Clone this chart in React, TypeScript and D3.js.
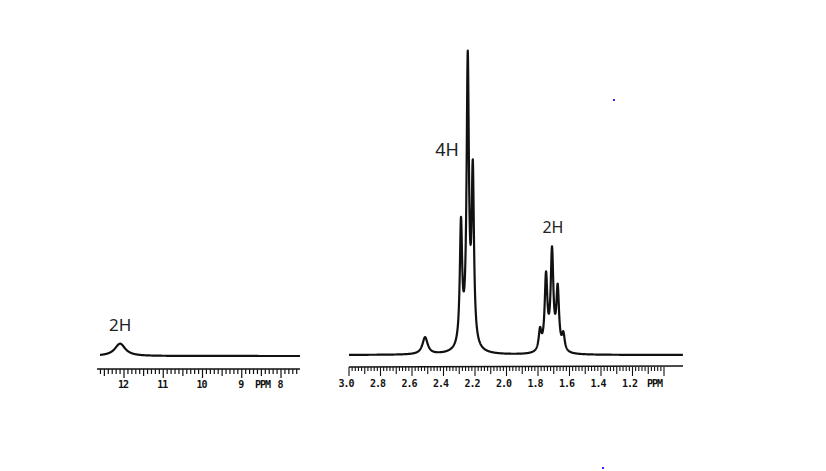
import * as d3 from "d3"

// right panel peaks (ppm, relative height, half width in ppm)
const rightPpm = [2.517, 2.289, 2.246, 2.214, 2.25, 1.787, 1.749, 1.711, 1.675, 1.639]
const rightHeight = [5.5, 39, 91, 55, 2, 6.6, 24, 31.8, 19.8, 5.3]
const rightWidth = [0.02, 0.0088, 0.0088, 0.0088, 0.05, 0.0102, 0.0102, 0.0102, 0.0102, 0.0102]

// left panel peak
const leftPpm = [12.1]
const leftHeight = [4]
const leftWidth = [0.16]

const rightTickLabels = ["3.0", "2.8", "2.6", "2.4", "2.2", "2.0", "1.8", "1.6", "1.4", "1.2"]
const leftTickLabels = ["12", "11", "10", "9", "8"]

const peakLabels = [
  { text: "2H", panel: "left", ppm: 12.1, h: 8, size: 17 },
  { text: "4H", panel: "right", ppm: 2.378, h: 64.5, size: 18 },
  { text: "2H", panel: "right", ppm: 1.705, h: 39.5, size: 16 },
]

function spectrum(ppm: number[], hs: number[], ws: number[], from: number, to: number, step: number) {
  const pts: [number, number][] = []
  for (let x = from; x >= to; x -= step) {
    let v = 0
    for (let i = 0; i < ppm.length; i++) {
      const d = (x - ppm[i]) / ws[i]
      v += hs[i] / (1 + d * d)
    }
    pts.push([x, v])
  }
  return pts
}

const App = () => {
  const xr = d3.scaleLinear().domain([3.0, 1.0]).range([349, 664])
  const yr = d3.scaleLinear().domain([0, 100]).range([355, 46])
  const xl = d3.scaleLinear().domain([12, 8]).range([124, 281])
  const yl = d3.scaleLinear().domain([0, 100]).range([356, 47])

  const rightData = spectrum(rightPpm, rightHeight, rightWidth, xr.invert(349), xr.invert(683), 0.001)
  const leftData = spectrum(leftPpm, leftHeight, leftWidth, xl.invert(100), xl.invert(300), 0.005)

  const lineR = d3.line<[number, number]>().x((d) => xr(d[0])).y((d) => yr(d[1]))
  const lineL = d3.line<[number, number]>().x((d) => xl(d[0])).y((d) => yl(d[1]))

  const rTicks = d3.range(0, 101).map((i) => 3.0 - i * 0.02)
  const lTicks = d3.range(0, 51).map((i) => 12.6 - i * 0.1)

  const tickFont = { fontFamily: "DejaVu Sans Mono", fontWeight: 700, fontSize: 10, letterSpacing: -1 }
  const ink = "#111"

  return (
    <svg width={826} height={471} style={{ position: "absolute", left: 0, top: 0, background: "#fff" }}>
      {/* spectra */}
      <path d={lineL(leftData) || ""} fill="none" stroke={ink} strokeWidth={2.2} />
      <path d={lineR(rightData) || ""} fill="none" stroke={ink} strokeWidth={2.2} strokeLinejoin="round" />

      {/* left axis */}
      <line x1={97} x2={300} y1={369} y2={369} stroke={ink} strokeWidth={1.5} />
      {lTicks.map((t, i) => {
        const r = Math.round(t * 10)
        const len = r % 10 === 0 ? 9 : r % 5 === 0 ? 7 : 5
        return <line key={i} x1={xl(t)} x2={xl(t)} y1={369} y2={369 + len} stroke={ink} strokeWidth={1.2} />
      })}
      {leftTickLabels.map((l) => (
        <text key={l} x={xl(+l) - 1} y={388} textAnchor="middle" fill={ink} style={tickFont}>
          {l}
        </text>
      ))}
      <text x={xl(8.47)} y={388} textAnchor="middle" fill={ink} style={tickFont}>
        PPM
      </text>

      {/* right axis */}
      <line x1={349} x2={683} y1={367} y2={366} stroke={ink} strokeWidth={1.5} />
      {rTicks.map((t, i) => {
        const r = Math.round(t * 100)
        const len = r % 20 === 0 ? 9 : r % 10 === 0 ? 7 : 4
        return <line key={i} x1={xr(t)} x2={xr(t)} y1={367} y2={367 + len} stroke={ink} strokeWidth={1.1} />
      })}
      {rightTickLabels.map((l) => (
        <text key={l} x={xr(+l) - 3} y={387} textAnchor="middle" fill={ink} style={tickFont}>
          {l}
        </text>
      ))}
      <text x={xr(1.06)} y={387} textAnchor="middle" fill={ink} style={tickFont}>
        PPM
      </text>

      {/* integration labels */}
      {peakLabels.map((p, i) => {
        const x = p.panel === "left" ? xl(p.ppm) : xr(p.ppm)
        const y = p.panel === "left" ? yl(p.h) : yr(p.h)
        return (
          <text key={i} x={x} y={y} textAnchor="middle" fill="#222" fontFamily="Noto Sans" fontSize={p.size}>
            {p.text}
          </text>
        )
      })}

      {/* scan specks */}
      <rect x={613} y={99} width={2} height={2} fill="#2a2aff" />
      <rect x={602} y={467} width={2} height={2} fill="#2a2aff" />
    </svg>
  )
}

export default App
